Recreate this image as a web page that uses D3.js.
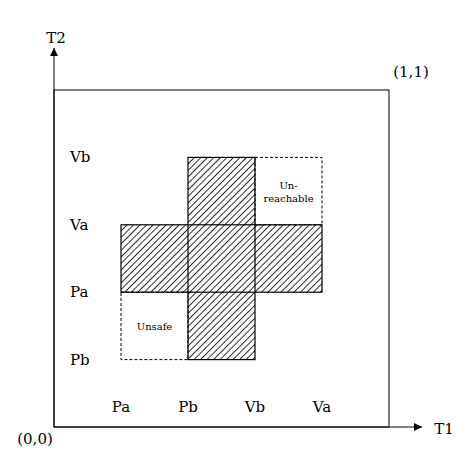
<!DOCTYPE html>
<html><head><meta charset="utf-8">
<script src="https://cdn.jsdelivr.net/npm/d3@7"></script>
<style>body{margin:0;background:#fff}</style></head>
<body><svg id="c" width="474" height="474"></svg>
<script>
const xTickLabels=["Pa","Pb","Vb","Va"];
const xTickValues=[0.2,0.4,0.6,0.8];
const yTickLabels=["Pb","Pa","Va","Vb"];
const yTickValues=[0.2,0.4,0.6,0.8];
// hatched regions [x0,x1,y0,y1]
const hatched=[[0.2,0.8,0.4,0.6],[0.4,0.6,0.2,0.8]];
const dashed=[[0.6,0.8,0.6,0.8],[0.2,0.4,0.2,0.4]];
const regionLabels=[{x:0.7,y:0.7,lines:["Un-","reachable"]},{x:0.3,y:0.3,lines:["Unsafe"]}];

const svg=d3.select("#c");
const x=d3.scaleLinear([0,1],[54,389]);
const y=d3.scaleLinear([0,1],[427,90]);
const font="'DejaVu Serif','Liberation Serif',serif";
const defs=svg.append("defs");
const pat=defs.append("pattern").attr("id","h").attr("patternUnits","userSpaceOnUse")
 .attr("width",4.6).attr("height",4.6).attr("patternTransform","rotate(45)");
pat.append("line").attr("x1",0).attr("y1",0).attr("x2",0).attr("y2",4.6).attr("stroke","#000").attr("stroke-width",1.6);
const mk=defs.append("marker").attr("id","a").attr("viewBox","0 0 10 10").attr("refX",10).attr("refY",5)
 .attr("markerWidth",8).attr("markerHeight",8).attr("markerUnits","userSpaceOnUse").attr("orient","auto");
mk.append("path").attr("d","M0,0L10,5L0,10Z");

svg.append("rect").attr("x",x(0)).attr("y",y(1)).attr("width",x(1)-x(0)).attr("height",y(0)-y(1))
 .attr("fill","none").attr("stroke","#000").attr("stroke-width",1);
svg.selectAll(".d").data(dashed).join("rect").attr("x",d=>x(d[0])).attr("y",d=>y(d[3]))
 .attr("width",d=>x(d[1])-x(d[0])).attr("height",d=>y(d[2])-y(d[3]))
 .attr("fill","none").attr("stroke","#000").attr("stroke-dasharray","3,2");
// union of hatched rects as one path (even fill)
const [A,B]=hatched;
const poly=[[B[0],B[3]],[B[1],B[3]],[B[1],A[3]],[A[1],A[3]],[A[1],A[2]],[B[1],A[2]],[B[1],B[2]],[B[0],B[2]],[B[0],A[2]],[A[0],A[2]],[A[0],A[3]],[B[0],A[3]]];
svg.append("path").attr("d","M"+poly.map(p=>x(p[0])+","+y(p[1])).join("L")+"Z").attr("fill","url(#h)");
svg.selectAll(".hh").data(hatched).join("rect").attr("x",d=>x(d[0])).attr("y",d=>y(d[3]))
 .attr("width",d=>x(d[1])-x(d[0])).attr("height",d=>y(d[2])-y(d[3]))
 .attr("fill","none").attr("stroke","#000").attr("stroke-width",1.2);
svg.append("line").attr("x1",x(0)).attr("y1",y(0)).attr("x2",422).attr("y2",y(0)).attr("stroke","#000").attr("marker-end","url(#a)");
svg.append("line").attr("x1",x(0)).attr("y1",y(0)).attr("x2",x(0)).attr("y2",48).attr("stroke","#000").attr("marker-end","url(#a)");
const t=(tx,ty,s,sz,anc)=>svg.append("text").attr("x",tx).attr("y",ty).text(s).attr("font-family",font)
 .attr("font-size",sz).attr("text-anchor",anc||"middle");
xTickValues.forEach((v,i)=>t(x(v),412,xTickLabels[i],15));
yTickValues.forEach((v,i)=>t(x(0)+16,y(v)+5,yTickLabels[i],15,"start"));
t(56,43,"T2",15); t(444,434,"T1",15); t(35,444,"(0,0)",15); t(411,77,"(1,1)",15);
regionLabels.forEach(r=>{const n=r.lines.length;r.lines.forEach((l,i)=>t(x(r.x),y(r.y)+4+(i-(n-1)/2)*13,l,10));});
</script></body></html>
